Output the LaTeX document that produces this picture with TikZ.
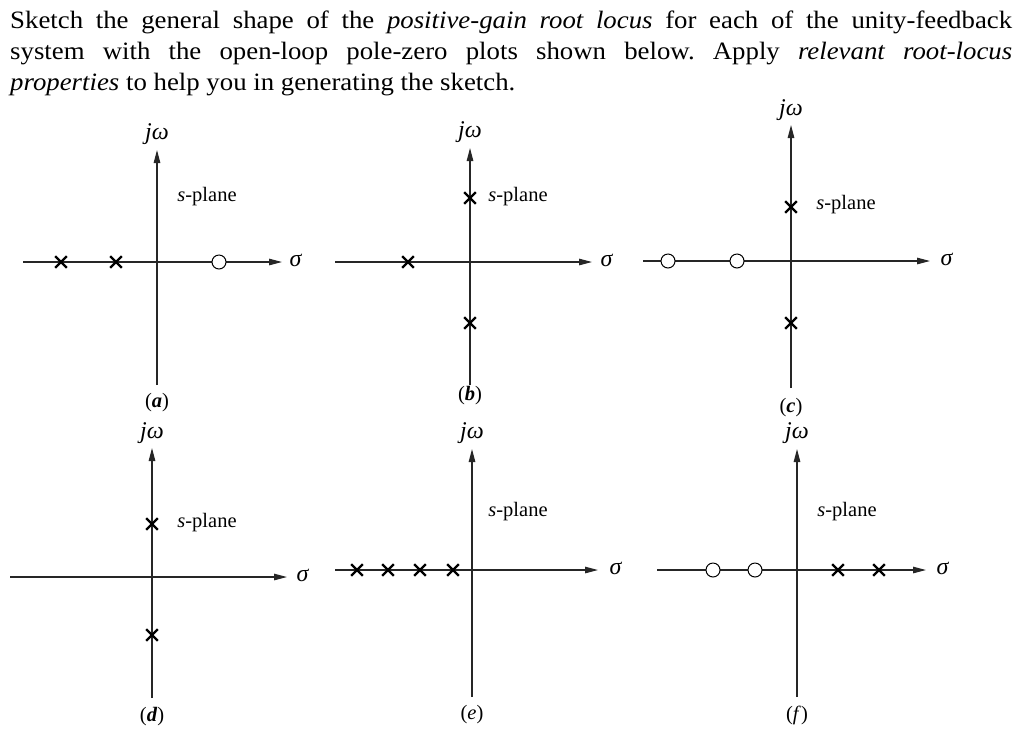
\documentclass[tikz,border=0pt]{standalone}
\usepackage{fontspec}
\setmainfont{Liberation Serif}
\newfontfamily\titlefont[FakeStretch=1.072]{Liberation Serif}
\usetikzlibrary{arrows.meta,shapes.misc}
\frenchspacing
\begin{document}
\begin{tikzpicture}[x=1pt,y=-1pt,
  axarrow/.style={line width=1.2pt, draw=black!85, -{Triangle[length=13pt,width=6.5pt]}},
  pole/.style={draw, cross out, line width=2.2pt, minimum size=9.5pt, inner sep=0pt},
  zero/.style={draw, circle, fill=white, line width=1pt, minimum size=14pt, inner sep=0pt},
  lbl/.style={font=\fontsize{20.5}{24}\selectfont, inner sep=0pt},
  axl/.style={font=\fontsize{24}{28}\selectfont, inner sep=0pt},
  title/.style={font=\titlefont\fontsize{25}{31}\selectfont, inner sep=0pt, anchor=base west}]
\useasboundingbox (0,0) rectangle (1024,740);
% title
\node[title] (t1) at (10,28) {\makebox[1002pt][s]{Sketch the general shape of the \textit{positive-gain root locus} for each of the unity-feedback}};
\node[title] (t2) at (10,59) {\makebox[1002pt][s]{system with the open-loop pole-zero plots shown below. Apply \textit{relevant root-locus}}};
\node[title] (t3) at (10,90) {\textit{properties} to help you in generating the sketch.};
% (a)
\coordinate (aT) at (157,150); \coordinate (aB) at (157,385);
\coordinate (aL) at (23,262); \coordinate (aR) at (282,262);
\draw[axarrow] (aB) -- (aT);
\draw[axarrow] (aL) -- (aR);
\node[axl] (aw) at (157,134) {\textit{jω}};
\node[axl] (as) at (296,260) {\textit{σ}};
\node[lbl] (ap) at (207,197) {\textit{s}-plane};
\node[pole] (ap1) at (61,262) {};
\node[pole] (ap2) at (116,262) {};
\node[zero] (az1) at (219,262) {};
\node[lbl] (acap) at (157,403) {(\textbf{\textit{a}})};
% (b)
\coordinate (bT) at (470,148); \coordinate (bB) at (470,385);
\coordinate (bL) at (335,262); \coordinate (bR) at (592,262);
\draw[axarrow] (bB) -- (bT);
\draw[axarrow] (bL) -- (bR);
\node[axl] (bw) at (470,132) {\textit{jω}};
\node[axl] (bs) at (607,260) {\textit{σ}};
\node[lbl] (bp) at (518,197) {\textit{s}-plane};
\node[pole] (bp1) at (470,198) {};
\node[pole] (bp2) at (470,323) {};
\node[pole] (bp3) at (408,262) {};
\node[lbl] (bcap) at (470,396) {(\textbf{\textit{b}})};
% (c)
\coordinate (cT) at (791,125); \coordinate (cB) at (791,388);
\coordinate (cL) at (643,261); \coordinate (cR) at (930,261);
\draw[axarrow] (cB) -- (cT);
\draw[axarrow] (cL) -- (cR);
\node[axl] (cw) at (791,110) {\textit{jω}};
\node[axl] (cs) at (947,259) {\textit{σ}};
\node[lbl] (cp) at (846,205) {\textit{s}-plane};
\node[pole] (cp1) at (791,207) {};
\node[pole] (cp2) at (791,323) {};
\node[zero] (cz1) at (668,261) {};
\node[zero] (cz2) at (737,261) {};
\node[lbl] (ccap) at (791,408) {(\textbf{\textit{c}})};
% (d)
\coordinate (dT) at (152,448); \coordinate (dB) at (152,698);
\coordinate (dL) at (10,577); \coordinate (dR) at (287,577);
\draw[axarrow] (dB) -- (dT);
\draw[axarrow] (dL) -- (dR);
\node[axl] (dw) at (152,433) {\textit{jω}};
\node[axl] (ds) at (303,575) {\textit{σ}};
\node[lbl] (dp) at (207,523) {\textit{s}-plane};
\node[pole] (dp1) at (152,524) {};
\node[pole] (dp2) at (152,635) {};
\node[lbl] (dcap) at (152,717) {(\textbf{\textit{d}})};
% (e)
\coordinate (eT) at (472,449); \coordinate (eB) at (472,697);
\coordinate (eL) at (335,570); \coordinate (eR) at (598,570);
\draw[axarrow] (eB) -- (eT);
\draw[axarrow] (eL) -- (eR);
\node[axl] (ew) at (472,433) {\textit{jω}};
\node[axl] (es) at (616,568) {\textit{σ}};
\node[lbl] (ep) at (518,512) {\textit{s}-plane};
\node[pole] (ep1) at (357,570) {};
\node[pole] (ep2) at (388,570) {};
\node[pole] (ep3) at (420,570) {};
\node[pole] (ep4) at (453,570) {};
\node[lbl] (ecap) at (472,715) {(\textit{e})};
% (f)
\coordinate (fT) at (797,449); \coordinate (fB) at (797,697);
\coordinate (fL) at (657,570); \coordinate (fR) at (926,570);
\draw[axarrow] (fB) -- (fT);
\draw[axarrow] (fL) -- (fR);
\node[axl] (fw) at (797,433) {\textit{jω}};
\node[axl] (fs) at (943,568) {\textit{σ}};
\node[lbl] (fp) at (847,512) {\textit{s}-plane};
\node[zero] (fz1) at (713,570) {};
\node[zero] (fz2) at (755,570) {};
\node[pole] (fp1) at (838,570) {};
\node[pole] (fp2) at (879,570) {};
\node[lbl] (fcap) at (797,715) {(\textit{f})};
\end{tikzpicture}
\end{document}
